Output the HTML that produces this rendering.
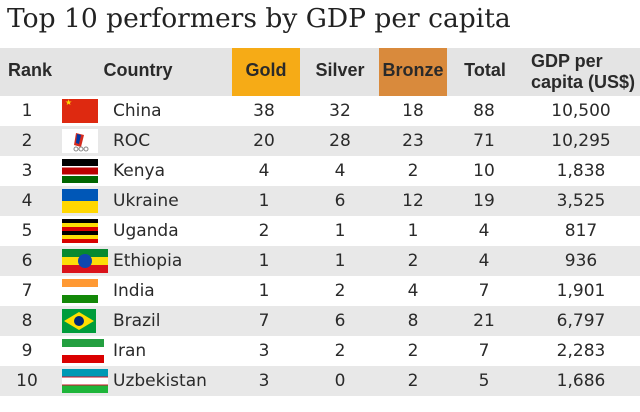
<!DOCTYPE html>
<html><head><meta charset="utf-8">
<style>
body{margin:0;width:640px;height:412px;background:#fff;overflow:hidden;position:relative;font-family:"DejaVu Sans","Liberation Sans",sans-serif;color:#222}
.t{position:absolute;white-space:nowrap}
#title{left:7px;top:3px;font-family:"DejaVu Serif","Liberation Serif",serif;font-size:26.5px;color:#222}
.hd{font-family:"Liberation Sans",sans-serif;font-weight:bold;font-size:18px;transform:translateX(-50%);top:60px;color:#2a2a2a}
.row{position:absolute;left:0;width:640px;height:30px}
.c{position:absolute;font-size:17px;top:5px;transform:translateX(-50%);color:#2a2a2a}
.flag{position:absolute;left:62px;top:3px;width:36px;height:24px;overflow:hidden}
</style></head><body>
<div id="title" class="t">Top 10 performers by GDP per capita</div>
<div style="position:absolute;left:0;top:48px;width:640px;height:48px;background:#e4e4e4"></div>
<div style="position:absolute;left:232px;top:48px;width:68px;height:48px;background:#f6ab16"></div>
<div style="position:absolute;left:379px;top:48px;width:68px;height:48px;background:#d98a3c"></div>
<div class="t hd" style="left:30px">Rank</div>
<div class="t hd" style="left:138px">Country</div>
<div class="t hd" style="left:266px">Gold</div>
<div class="t hd" style="left:340px">Silver</div>
<div class="t hd" style="left:413px">Bronze</div>
<div class="t hd" style="left:485px">Total</div>
<div class="t hd" style="left:583px;top:51px;line-height:21px;text-align:left">GDP per<br>capita (US$)</div>
<div id="rows"></div>
<script>
const countries=["China","ROC","Kenya","Ukraine","Uganda","Ethiopia","India","Brazil","Iran","Uzbekistan"];
const gold=[38,20,4,1,2,1,1,7,3,3];
const silver=[32,28,4,6,1,1,2,6,2,0];
const bronze=[18,23,2,12,1,2,4,8,2,2];
const total=[88,71,10,19,4,4,7,21,7,5];
const gdp=["10,500","10,295","1,838","3,525","817","936","1,901","6,797","2,283","1,686"];
const flagW=[36,36,36,36,36,46,36,34,42,46];
const flags=[
'<div style="background:#de2910;width:100%;height:100%;color:#ffde00;font-size:8px;line-height:8px;padding-left:3px">★</div>',
'<div style="background:#fff;width:100%;height:100%;text-align:center"><svg width="36" height="24"><path d="M14 4 L22 6 L19 18 L12 16Z" fill="#d52b1e"/><path d="M15 5 L19 6 L17 15 L14 14Z" fill="#0039a6"/><circle cx="14" cy="20" r="2" fill="none" stroke="#888"/><circle cx="19" cy="20" r="2" fill="none" stroke="#888"/><circle cx="24" cy="20" r="2" fill="none" stroke="#888"/></svg></div>',
'<div style="height:100%;background:linear-gradient(#000 0 30%,#fff 30% 36%,#b00 36% 64%,#fff 64% 70%,#060 70%)"></div>',
'<div style="height:100%;background:linear-gradient(#0057b7 0 50%,#ffd700 50%)"></div>',
'<div style="height:100%;background:linear-gradient(#000 0 17%,#fcdc04 17% 33%,#d90000 33% 50%,#000 50% 67%,#fcdc04 67% 83%,#d90000 83%)"></div>',
'<div style="height:100%;background:linear-gradient(#078930 0 33%,#fcdd09 33% 67%,#da121a 67%);position:relative"><div style="position:absolute;left:16px;top:5px;width:14px;height:14px;border-radius:50%;background:#0f47af"></div></div>',
'<div style="height:100%;background:linear-gradient(#f93 0 33%,#fff 33% 67%,#138808 67%)"></div>',
'<div style="height:100%;background:#009c3b;position:relative"><svg width="34" height="24" style="position:absolute;left:0;top:0"><polygon points="17,3 32,12 17,21 2,12" fill="#ffdf00"/><circle cx="17" cy="12" r="5" fill="#002776"/></svg></div>',
'<div style="height:100%;background:linear-gradient(#239f40 0 33%,#fff 33% 67%,#da0000 67%)"></div>',
'<div style="height:100%;background:linear-gradient(#0099b5 0 32%,#ce1126 32% 35%,#fff 35% 65%,#ce1126 65% 68%,#1eb53a 68%)"></div>'
];
const rowsEl=document.getElementById('rows');
const top0=96,rh=30;
countries.forEach((c,i)=>{
  const r=document.createElement('div');
  r.className='row';
  
  
  r.style.top=(top0+i*rh)+'px';
  r.style.background=i%2?'#e8e8e8':'#fff';
  const cells=[[27,i+1,'rank'],[264,gold[i],'gold'],[340,silver[i],'silver'],[413,bronze[i],'bronze'],[484,total[i],'total'],[581,gdp[i],'gdp']];
  let h='';
  cells.forEach(([x,v,n])=>{h+='<div class="c" style="left:'+x+'px">'+v+'</div>';});
  h+='<div class="flag" style="width:'+flagW[i]+'px">'+flags[i]+'</div>';
  h+='<div class="c" style="left:113px;transform:none">'+c+'</div>';
  r.innerHTML=h;
  rowsEl.appendChild(r);
});
</script>
</body></html>
